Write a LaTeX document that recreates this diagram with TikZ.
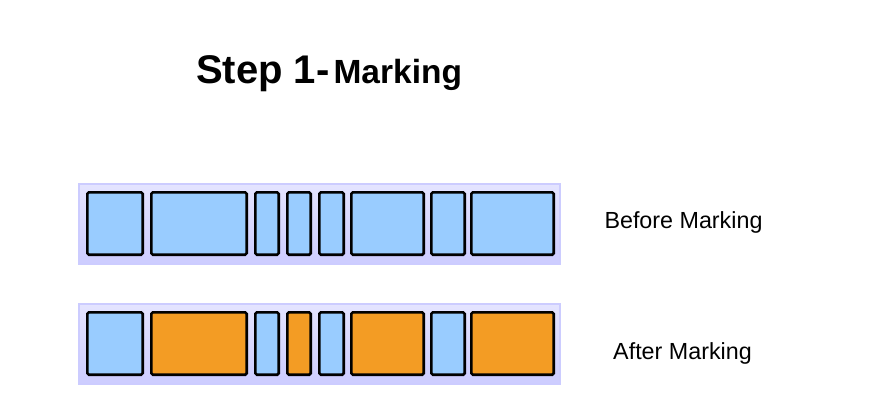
\documentclass[tikz,border=0pt]{standalone}
\usepackage{fontspec}
\setmainfont{Liberation Sans}
\usepackage{xcolor}
\usepackage{tikz}
\usetikzlibrary{positioning}
\definecolor{cellblue}{HTML}{99CCFF}
\definecolor{cellorange}{HTML}{F39C24}
\definecolor{lavender}{HTML}{CCCCFF}
\definecolor{lavtop}{HTML}{E4E4FF}
\tikzset{
  bar/.style={draw=lavender,line width=2pt,top color=lavtop,bottom color=lavender,
    minimum width=481pt,minimum height=80pt,inner sep=0pt},
  cell/.style={draw=black,line width=2.6pt,rounded corners=1.5pt,fill=cellblue,
    minimum height=62.4pt,inner sep=0pt},
  label/.style={font=\fontsize{23.3}{28}\selectfont,inner sep=0pt,anchor=base}
}
\begin{document}
\begin{tikzpicture}[x=1pt,y=-1pt]
  \useasboundingbox (0,0) rectangle (869,410);
  \node[inner sep=0pt,anchor=base west] (title) at (196,83)
    {\bfseries\fontsize{40}{48}\selectfont Step 1-\kern4pt\fontsize{33.5}{40}\selectfont Marking};
  % bars
  \node[bar] (before) at (319.5,224) {};
  \node[bar] (after) at (319.5,344) {};
  % cells, same widths in both rows
  \foreach \xa/\xb/\mk [count=\i] in {86/144/cellblue,150/248/cellorange,254/280/cellblue,
      286/312/cellorange,318/345/cellblue,350/425/cellorange,430/466/cellblue,470/555/cellorange} {
    \node[cell,minimum width={\xb-\xa-2.6}] (top\i) at ({(\xa+\xb)/2},223.5) {};
    \node[cell,fill=\mk,minimum width={\xb-\xa-2.6}] (bot\i) at ({(\xa+\xb)/2},343.5) {};
  }
  \node[label] (lbefore) at (683.5,228) {Before Marking};
  \node[label] (lafter) at (682.5,359) {After Marking};
\end{tikzpicture}
\end{document}
